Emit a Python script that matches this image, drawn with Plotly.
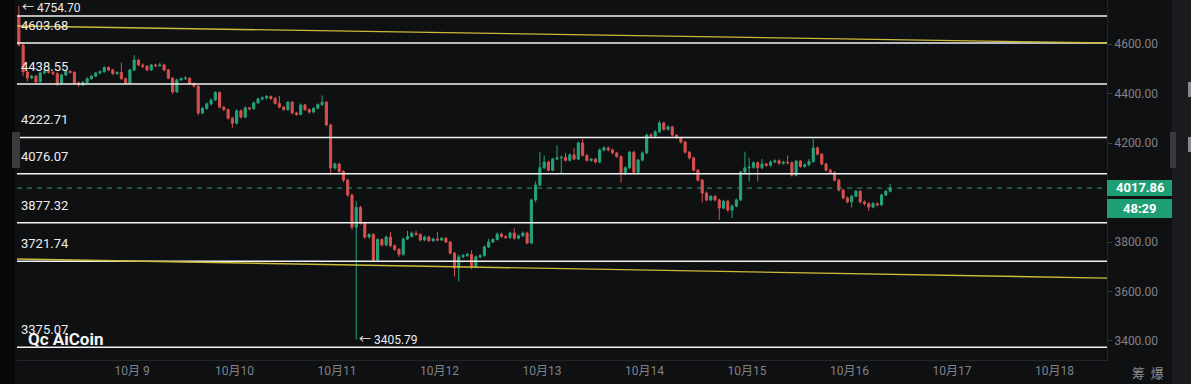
import plotly.graph_objects as go
import pandas as pd

# ---------------- data (hourly candles) ----------------
opens = [4710,4596,4487,4463,4470,4447,4483,4490,4485,4480,
 4442,4475,4490,4485,4443,4435,4445,4460,4470,4483,
 4488,4505,4495,4480,4485,4460,4442,4495,4535,4515,
 4510,4495,4515,4512,4515,4495,4462,4406,4455,4460,
 4462,4440,4430,4321,4340,4358,4374,4404,4345,4335,
 4300,4280,4330,4305,4342,4338,4362,4378,4382,4388,
 4380,4360,4345,4335,4365,4321,4315,4354,4335,4325,
 4340,4355,4365,4273,4099,4115,4085,4050,3990,3860,
 3940,3877,3820,3830,3727,3810,3788,3820,3785,3770,
 3750,3812,3822,3835,3830,3808,3820,3805,3812,3808,
 3815,3800,3755,3695,3740,3745,3750,3700,3740,3745,
 3780,3800,3810,3832,3822,3818,3836,3815,3825,3836,
 3796,3970,4030,4100,4123,4090,4135,4140,4142,4130,
 4152,4135,4200,4150,4130,4135,4123,4172,4180,4172,
 4160,4145,4080,4100,4163,4082,4131,4160,4232,4228,
 4245,4281,4255,4265,4232,4222,4204,4163,4140,4090,
 4050,3998,3970,3985,3970,3937,3965,3929,3945,3970,
 4083,4100,4102,4120,4100,4115,4110,4123,4128,4118,
 4122,4120,4070,4127,4105,4112,4125,4180,4155,4115,
 4090,4080,4050,4010,3978,3962,3985,4005,3962,3955,
 3941,3955,3950,3990,4005]

highs = [4754.70,4602,4492,4476,4474,4488,4495,4494,4490,4486,
 4480,4495,4494,4490,4448,4450,4465,4475,4488,4494,
 4510,4510,4500,4490,4525,4465,4500,4555,4540,4522,
 4515,4520,4520,4524,4520,4500,4466,4460,4466,4470,
 4466,4445,4434,4346,4364,4380,4410,4408,4350,4340,
 4306,4336,4336,4348,4346,4368,4384,4388,4394,4392,
 4386,4390,4350,4370,4370,4326,4360,4358,4340,4345,
 4360,4392,4370,4278,4122,4120,4090,4056,3995,3965,
 3946,3882,3836,3836,3816,3815,3826,3840,3790,3776,
 3818,3845,3842,3845,3836,3826,3826,3818,3840,3820,
 3820,3805,3760,3750,3752,3756,3766,3746,3750,3786,
 3812,3816,3838,3838,3828,3842,3855,3830,3842,3842,
 3975,4045,4164,4150,4128,4140,4190,4150,4160,4158,
 4180,4206,4216,4155,4140,4140,4178,4188,4186,4178,
 4165,4150,4106,4168,4168,4136,4166,4238,4240,4252,
 4290,4286,4272,4270,4236,4226,4208,4168,4145,4095,
 4055,4004,3990,3990,3975,3970,3970,3952,3976,4088,
 4165,4140,4126,4126,4135,4120,4130,4134,4134,4128,
 4150,4126,4132,4132,4118,4135,4216,4186,4160,4120,
 4096,4086,4055,4015,3984,3990,4010,4010,3968,3960,
 3962,3960,3995,4010,4035]

lows = [4590,4470,4450,4458,4440,4444,4478,4480,4474,4430,
 4436,4470,4480,4438,4428,4430,4440,4456,4466,4478,
 4484,4490,4475,4476,4455,4436,4438,4490,4510,4502,
 4490,4492,4506,4508,4490,4458,4398,4402,4450,4455,
 4436,4424,4312,4316,4334,4352,4370,4340,4328,4294,
 4262,4274,4298,4300,4332,4334,4358,4372,4376,4374,
 4355,4340,4330,4330,4316,4310,4312,4330,4318,4320,
 4336,4350,4268,4070,4092,4080,4042,3982,3850,3405.79,
 3870,3812,3814,3720,3722,3782,3782,3778,3764,3740,
 3745,3808,3818,3825,3802,3804,3800,3800,3802,3804,
 3795,3750,3660,3640,3735,3740,3690,3694,3734,3740,
 3776,3796,3806,3816,3812,3812,3810,3810,3820,3790,
 3792,3960,4024,4095,4085,4086,4130,4075,4125,4125,
 4130,4130,4145,4124,4124,4118,4118,4166,4166,4155,
 4140,4040,4070,4095,4078,4078,4126,4155,4222,4222,
 4240,4250,4250,4226,4216,4198,4158,4134,4085,4044,
 3960,3964,3965,3964,3890,3932,3922,3897,3940,3965,
 4078,4045,4096,4045,4095,4104,4104,4118,4112,4112,
 4114,4064,4065,4100,4100,4106,4120,4150,4110,4085,
 4074,4044,4004,3972,3956,3940,3980,3956,3948,3925,
 3936,3944,3945,3985,4000]

closes = [4596,4487,4463,4470,4447,4483,4490,4485,4480,4442,
 4475,4490,4485,4443,4435,4445,4460,4470,4483,4488,
 4505,4495,4480,4485,4460,4442,4495,4535,4515,4510,
 4495,4515,4512,4515,4495,4462,4406,4455,4460,4462,
 4440,4430,4321,4340,4358,4374,4404,4345,4335,4300,
 4280,4330,4305,4342,4338,4362,4378,4382,4388,4380,
 4360,4345,4335,4365,4321,4315,4354,4335,4325,4340,
 4355,4365,4273,4099,4115,4085,4050,3990,3860,3940,
 3877,3820,3830,3727,3810,3788,3820,3785,3770,3750,
 3812,3822,3835,3830,3808,3820,3805,3812,3808,3815,
 3800,3755,3695,3740,3745,3750,3700,3740,3745,3780,
 3800,3810,3832,3822,3818,3836,3815,3825,3836,3796,
 3970,4030,4100,4123,4090,4135,4140,4142,4130,4152,
 4135,4200,4150,4130,4135,4123,4172,4180,4172,4160,
 4145,4080,4100,4163,4082,4131,4160,4232,4228,4245,
 4281,4255,4265,4232,4222,4204,4163,4140,4090,4050,
 3998,3970,3985,3970,3937,3965,3929,3945,3970,4083,
 4100,4102,4120,4100,4115,4110,4123,4128,4118,4122,
 4120,4070,4127,4105,4112,4125,4180,4155,4115,4090,
 4080,4050,4010,3978,3962,3985,4005,3962,3955,3941,
 3955,3950,3990,4005,4017.86]

start_time = "2025-10-07 21:30"
times = pd.date_range(start_time, periods=len(closes), freq="h")

level_prices = [4713.0, 4603.68, 4438.55, 4222.71, 4076.07, 3877.32, 3721.74, 3375.07]
level_labels = ["", "4603.68", "4438.55", "4222.71", "4076.07", "3877.32", "3721.74", "3375.07"]

trend_times = ["2025-10-07 21:04", "2025-10-18 12:17"]
upper_trend = [4673, 4604]
lower_trend = [3731, 3654]

last_price = 4017.86
countdown = "48:29"
max_label = "← 4754.70"
min_label = "← 3405.79"
min_time = "2025-10-11 04:30"

day_ticks = ["2025-10-%02d" % d for d in range(9, 19)]
day_labels = ["10月 9", "10月10", "10月11", "10月12", "10月13", "10月14",
              "10月15", "10月16", "10月17", "10月18"]
y_ticks = [3400, 3600, 3800, 4200, 4400, 4600]

# ---------------- styling ----------------
GREEN = "#25a47c"
RED = "#d9504e"
BG = "#0f1012"
FONT = "Roboto, Noto Sans CJK SC, sans-serif"

fig = go.Figure()
fig.add_trace(go.Candlestick(
    x=times, open=opens, high=highs, low=lows, close=closes,
    increasing=dict(line=dict(color=GREEN, width=1), fillcolor=GREEN),
    decreasing=dict(line=dict(color=RED, width=1), fillcolor=RED),
    whiskerwidth=0, hoverinfo="skip", showlegend=False,
))

shapes = []
annotations = []

# white horizontal levels
for p, lab in zip(level_prices, level_labels):
    shapes.append(dict(type="line", xref="paper", x0=0, x1=1, yref="y", y0=p, y1=p,
                       line=dict(color="#f2f2f2", width=1.5), layer="above"))
    if lab:
        annotations.append(dict(xref="paper", x=0.002, yref="y", y=p, text=lab,
                                xanchor="left", yanchor="bottom", yshift=8, showarrow=False,
                                font=dict(color="#eeeeee", size=13, family=FONT)))

# yellow trend lines
for tr in (upper_trend, lower_trend):
    shapes.append(dict(type="line", xref="x", yref="y",
                       x0=trend_times[0], x1=trend_times[1], y0=tr[0], y1=tr[1],
                       line=dict(color="#cdbb3a", width=1.4), layer="above"))

# last price dashed line
shapes.append(dict(type="line", xref="paper", x0=0, x1=1, yref="y", y0=last_price, y1=last_price,
                   line=dict(color="#2a9d78", width=1, dash="5px,5px"), layer="above"))

# right price box + countdown box
W, L, R = 1191, 17, 84
PW = W - L - R
def px(xp):
    return (xp - L) / PW
def py(yp):
    return (360 - yp) / 360

shapes.append(dict(type="rect", xref="paper", yref="paper", x0=px(1107), x1=px(1172),
                   y0=py(196), y1=py(180), fillcolor="#1f9e75", line=dict(width=0), layer="above"))
shapes.append(dict(type="rect", xref="paper", yref="paper", x0=px(1107), x1=px(1172),
                   y0=py(218), y1=py(199), fillcolor="#1f9e75", line=dict(width=0), layer="above"))
annotations.append(dict(xref="paper", yref="paper", x=px(1140), y=py(188), text="<b>%.2f</b>" % last_price,
                        xanchor="center", yanchor="middle",
                        showarrow=False, font=dict(color="white", size=13, family=FONT)))
annotations.append(dict(xref="paper", yref="paper", x=px(1140), y=py(208.5), text="<b>%s</b>" % countdown,
                        xanchor="center", yanchor="middle",
                        showarrow=False, font=dict(color="white", size=13, family=FONT)))

# side strips and handles
shapes.append(dict(type="rect", xref="paper", yref="paper", x0=px(0), x1=px(15), y0=py(384), y1=py(0),
                   fillcolor="#070707", line=dict(width=0), layer="below"))
shapes.append(dict(type="rect", xref="paper", yref="paper", x0=px(1174), x1=px(1191), y0=py(384), y1=py(0),
                   fillcolor="#1a1b1e", line=dict(width=0), layer="below"))
shapes.append(dict(type="line", xref="paper", yref="paper", x0=px(1173), x1=px(1173), y0=py(384), y1=py(0),
                   line=dict(color="#26272b", width=1)))
shapes.append(dict(type="rect", xref="paper", yref="paper", x0=px(12), x1=px(20), y0=py(168), y1=py(132),
                   fillcolor="#3a3b3f", line=dict(width=0)))
shapes.append(dict(type="rect", xref="paper", yref="paper", x0=px(1170), x1=px(1176), y0=py(168), y1=py(132),
                   fillcolor="#3a3b3f", line=dict(width=0)))
shapes.append(dict(type="rect", xref="paper", yref="paper", x0=px(1188), x1=px(1191), y0=py(97), y1=py(82),
                   fillcolor="#8a8b90", line=dict(width=0)))
shapes.append(dict(type="rect", xref="paper", yref="paper", x0=px(1188), x1=px(1191), y0=py(152), y1=py(137),
                   fillcolor="#8a8b90", line=dict(width=0)))

# max/min markers
annotations.append(dict(x=times[0], y=4754.70, text=max_label, xanchor="left", yanchor="middle",
                        xshift=1, yshift=-2, showarrow=False,
                        font=dict(color="#eeeeee", size=12, family=FONT)))
annotations.append(dict(x=min_time, y=3405.79, text=min_label, xanchor="left", yanchor="middle",
                        xshift=1, showarrow=False, font=dict(color="#eeeeee", size=12, family=FONT)))

# watermark
annotations.append(dict(xref="paper", yref="paper", x=px(26), y=py(339), text="<b>Qc AiCoin</b>",
                        xanchor="left", yanchor="middle", showarrow=False,
                        font=dict(color="#f4f4f4", size=17, family=FONT)))
# bottom-right text
annotations.append(dict(xref="paper", yref="paper", x=px(1148), y=py(372), text="筹  爆",
                        xanchor="center", yanchor="middle",
                        showarrow=False, font=dict(color="#8a8d93", size=13, family="Noto Sans CJK SC")))

fig.update_layout(
    width=1191, height=384,
    margin=dict(l=L, r=R, t=0, b=24),
    paper_bgcolor=BG, plot_bgcolor=BG,
    shapes=shapes, annotations=annotations,
    showlegend=False,
    xaxis=dict(range=trend_times, rangeslider=dict(visible=False), showgrid=False, zeroline=False,
               tickvals=day_ticks, ticktext=day_labels, ticks="",
               tickfont=dict(color="#80838a", size=12, family=FONT),
               showline=True, linecolor="#24252a", linewidth=1),
    yaxis=dict(range=[3323.2, 4777.8], side="right", showgrid=False, zeroline=False,
               tickvals=y_ticks, ticktext=["%.2f" % v for v in y_ticks],
               ticks="outside", ticklen=4, tickcolor="#3a3b40",
               tickfont=dict(color="#80838a", size=12, family=FONT),
               showline=True, linecolor="#24252a", linewidth=1),
    font=dict(family=FONT),
)

fig.write_html("out.html", config={"displayModeBar": False},
               post_script="document.body.style.margin='0';document.body.style.background='%s';" % BG)
